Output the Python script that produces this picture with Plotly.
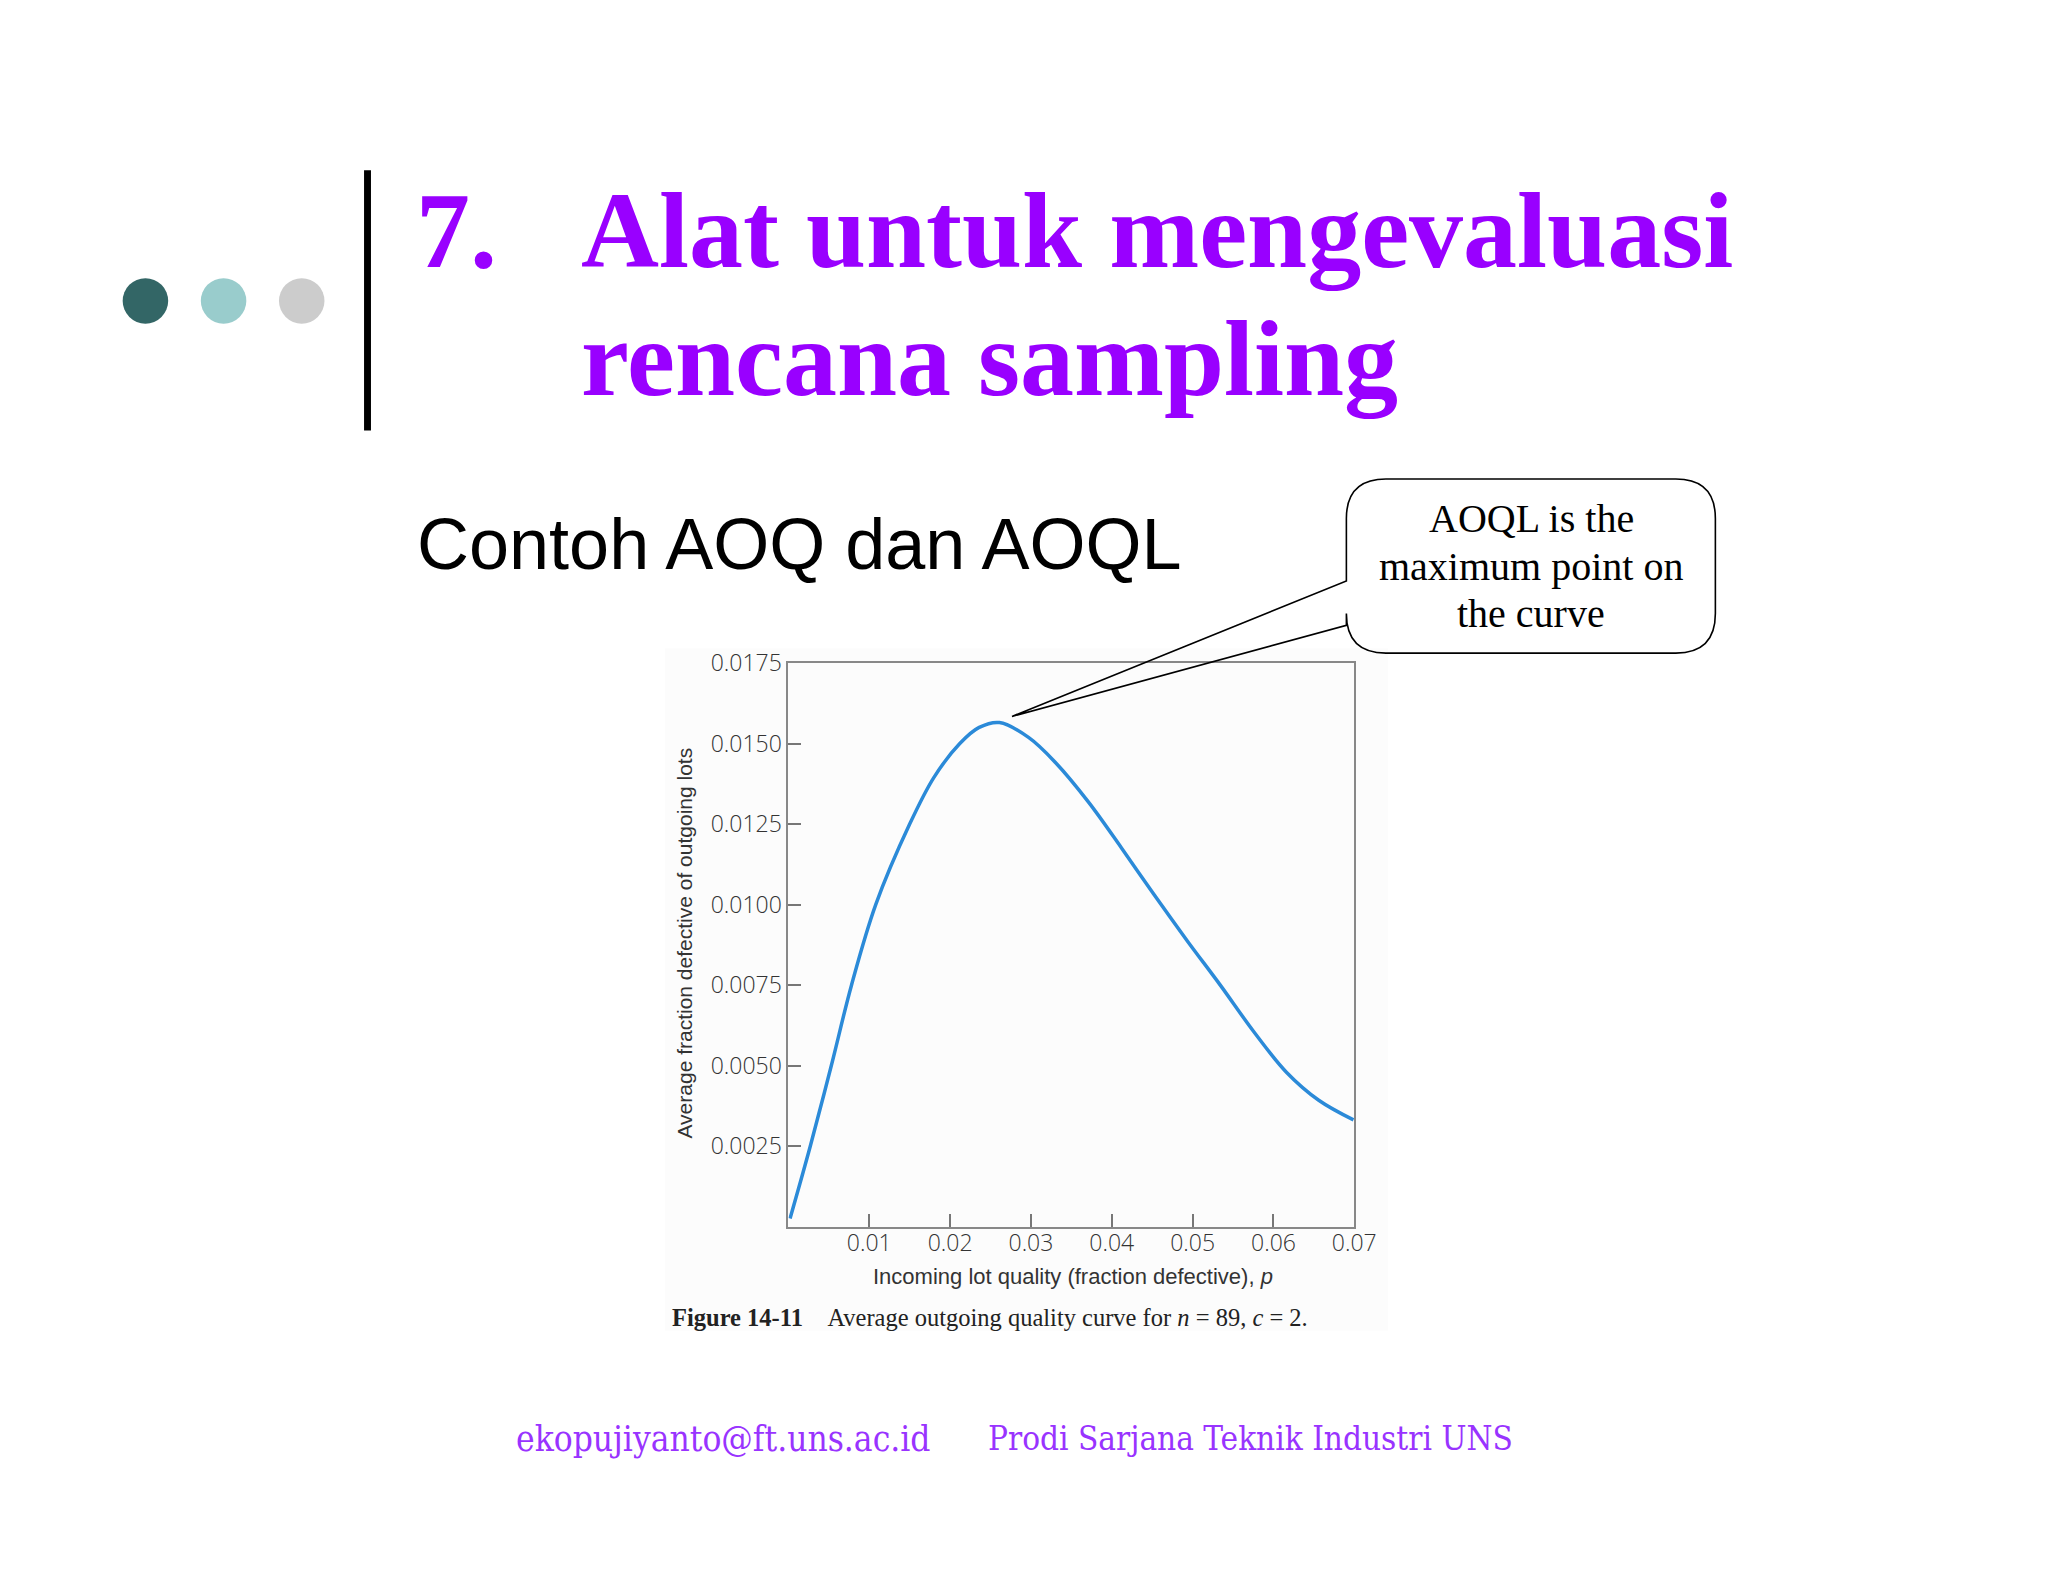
import plotly.graph_objects as go

# ---------- DATA ----------
p_incoming = [0.0002, 0.0027, 0.0053, 0.0078, 0.0108, 0.0150, 0.0180, 0.0212, 0.0236,
              0.0261, 0.0297, 0.0330, 0.0371, 0.0412, 0.0452, 0.0493, 0.0534, 0.0575,
              0.0616, 0.0656, 0.0699]
aoq = [0.00026, 0.0025, 0.0050, 0.0075, 0.0100, 0.0125, 0.01395, 0.0150, 0.0155,
       0.01565, 0.01519, 0.01442, 0.01319, 0.01176, 0.01032, 0.00889, 0.00751, 0.00608,
       0.00480, 0.00393, 0.00332]

x_ticks = [0.01, 0.02, 0.03, 0.04, 0.05, 0.06, 0.07]
y_ticks = [0.0025, 0.0050, 0.0075, 0.0100, 0.0125, 0.0150, 0.0175]

title_num = "7."
title_lines = ["Alat untuk mengevaluasi", "rencana sampling"]
subtitle = "Contoh AOQ dan AOQL"
callout_lines = ["AOQL is the", "maximum point on", "the curve"]
x_title = "Incoming lot quality (fraction defective), <i>p</i>"
y_title = "Average fraction defective of outgoing lots"
caption = "<b>Figure 14-11</b>\u00a0\u00a0\u00a0\u00a0Average outgoing quality curve for <i>n</i> = 89, <i>c</i> = 2."
footer_left = "ekopujiyanto@ft.uns.ac.id"
footer_right = "Prodi Sarjana Teknik Industri UNS"

# ---------- PAGE GEOMETRY ----------
W, H = 2048, 1582


def px(x):
    return x / W


def py(y):
    return 1 - y / H


def pt(x, y):
    return f"{px(x):.5f},{py(y):.5f}"


PURPLE = "#9900ff"
SERIF = "Liberation Serif, Times New Roman, serif"
SANS = "Liberation Sans, Arial, sans-serif"
TICKS = "Open Sans, Liberation Sans, sans-serif"

fig = go.Figure()

fig.add_trace(go.Scatter(
    x=p_incoming, y=aoq,
    mode="lines",
    line=dict(color="#2b8ad8", width=3.5, shape="spline", smoothing=1.0),
    hoverinfo="skip",
    showlegend=False
))

axis_common = dict(
    ticks="inside", ticklen=13, tickwidth=1.5, tickcolor="#777",
    showline=True, mirror=True, linecolor="#888", linewidth=2,
    showgrid=False, zeroline=False,
    tickfont=dict(family=TICKS, size=23, color="#333", weight=300),
)

fig.update_layout(
    width=W, height=H,
    margin=dict(l=0, r=0, t=0, b=0),
    paper_bgcolor="white",
    plot_bgcolor="rgba(0,0,0,0)",
    showlegend=False,
    xaxis=dict(domain=[px(797), px(1369)], range=[0, 0.07],
               tickvals=x_ticks, tickformat=".2f", ticklabelstandoff=-5, **axis_common),
    yaxis=dict(domain=[py(1223), py(653)], range=[0, 0.0175],
               tickvals=y_ticks, tickformat=".4f", **axis_common),
)

# ---------- SHAPES ----------
shapes = []
# scanned figure panel
shapes.append(dict(type="rect", xref="paper", yref="paper", layer="below",
                   x0=px(672), x1=px(1403), y0=py(1328), y1=py(638),
                   fillcolor="#fcfcfc", line=dict(width=0)))
# slide decoration: dots + vertical bar
for cx, col in [(147, "#336666"), (226, "#99cccc"), (305, "#cccccc")]:
    shapes.append(dict(type="circle", xref="paper", yref="paper",
                       x0=px(cx - 23), x1=px(cx + 23), y0=py(310), y1=py(264),
                       fillcolor=col, line=dict(width=0)))
shapes.append(dict(type="rect", xref="paper", yref="paper",
                   x0=px(368), x1=px(375), y0=py(418), y1=py(155),
                   fillcolor="black", line=dict(width=0)))

# callout bubble with pointer
L, R, T, B, r = 1361, 1734, 467, 643, 40
tip = (1023, 707)
path = (f"M {pt(L + r, T)} L {pt(R - r, T)} Q {pt(R, T)} {pt(R, T + r)} "
        f"L {pt(R, B - r)} Q {pt(R, B)} {pt(R - r, B)} L {pt(L + r, B)} "
        f"Q {pt(L, B)} {pt(L, B - r)} L {pt(L, 615)} L {pt(*tip)} L {pt(L, 570)} "
        f"L {pt(L, T + r)} Q {pt(L, T)} {pt(L + r, T)} Z")
shapes.append(dict(type="path", xref="paper", yref="paper", path=path,
                   fillcolor="rgba(0,0,0,0)", line=dict(color="black", width=1.6)))

fig.update_layout(shapes=shapes)

# ---------- TEXT ----------
ann = []


def text(s, x, y, size, family, color="black", xanchor="left", angle=0):
    ann.append(dict(text=s, x=px(x), y=py(y), xref="paper", yref="paper",
                    xanchor=xanchor, yanchor="middle", showarrow=False, textangle=angle,
                    font=dict(size=size, family=family, color=color)))


text(f"<b>{title_num}</b>", 418, 216, 108, SERIF, PURPLE)
text(f"<b>{title_lines[0]}</b>", 585, 216, 108, SERIF, PURPLE)
text(f"<b>{title_lines[1]}</b>", 585, 346, 108, SERIF, PURPLE)
text(subtitle, 420, 533, 72, SANS)
for i, line in enumerate(callout_lines):
    text(line, 1548, 507 + 48 * i, 40, SERIF, xanchor="center")
text(x_title, 1085, 1273, 22, SANS, "#333", xanchor="center")
text(y_title, 692, 936, 21, SANS, "#333", xanchor="center", angle=-90)
text(caption, 677, 1315, 24.5, SERIF, "#222")
FOOT = "DejaVu Serif Condensed, Liberation Serif, serif"
text(footer_left, 731, 1437, 35, FOOT, "#9933ff", xanchor="center")
text(footer_right, 1264, 1437, 33, FOOT, "#9933ff", xanchor="center")

fig.update_layout(annotations=ann)

fig.write_html("out.html", config={"displayModeBar": False},
               post_script="document.body.style.margin='0';")
